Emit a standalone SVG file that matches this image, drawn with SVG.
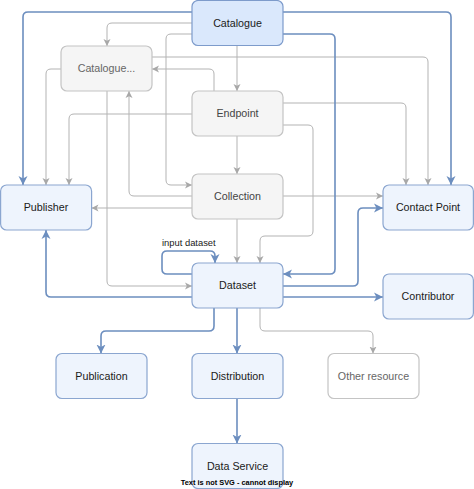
<svg xmlns="http://www.w3.org/2000/svg" width="474" height="489" viewBox="0 0 474 489">
<defs>
<marker id="ag" markerUnits="userSpaceOnUse" markerWidth="8" markerHeight="8" viewBox="0 0 8 8" refX="7" refY="4" orient="auto">
<path d="M0,0.5 L7,4 L0,7.5 L1.8,4 z" fill="#a8a8a8"/>
</marker>
<marker id="ab" markerUnits="userSpaceOnUse" markerWidth="10" markerHeight="10" viewBox="0 0 10 10" refX="9" refY="5" orient="auto">
<path d="M0,0.5 L9,5 L0,9.5 L2.4,5 z" fill="#6c8ebf"/>
</marker>
<style>
text{font-family:"Liberation Sans",Arial,Helvetica,sans-serif;font-size:10.7px;text-anchor:middle;fill:#1a1a1a}
.nb rect{fill:#eef4fd;stroke:#8ba6d0;stroke-width:1.2}
.nc rect{fill:#dae8fc;stroke:#7d9bcb;stroke-width:1.2}
.ng rect{fill:#f5f5f5;stroke:#c4c4c4;stroke-width:1.2}
.nw rect{fill:#ffffff;stroke:#c4c4c4;stroke-width:1.2}
.ng text{fill:#444}
.nw text{fill:#666}
#catalogue2 text{fill:#666}
.g{fill:none;stroke:#b3b3b3;stroke-width:1;marker-end:url(#ag)}
.b{fill:none;stroke:#6c8ebf;stroke-width:1.6;marker-end:url(#ab)}
.lbl{font-size:9.4px;text-anchor:start}
.warn{font-size:7.4px;font-weight:bold;fill:#000}
</style>
</defs>
<g id="connectors">
<path class="g" d="M192,23 H112 Q107,23 107,28 V46"/>
<path class="g" d="M237,45.5 V91"/>
<path class="g" d="M192,34 H171 Q166,34 166,39 V180 Q166,185 171,185 H192"/>
<path class="g" d="M152,57 H423 Q428,57 428,62 V185"/>
<path class="g" d="M283,103 H401 Q406,103 406,108 V185"/>
<path class="g" d="M214,91 V74 Q214,69 209,69 H152"/>
<path class="g" d="M192,114 H74 Q69,114 69,119 V185"/>
<path class="g" d="M61,69 H51 Q46,69 46,74 V185"/>
<path class="g" d="M107,91 V281 Q107,286 112,286 H192"/>
<path class="g" d="M192,196 H134 Q129,196 129,191 V91"/>
<path class="g" d="M192,208 H91.5"/>
<path class="g" d="M283,196 H383"/>
<path class="g" d="M237,136 V174"/>
<path class="g" d="M283,125 H308 Q313,125 313,130 V231 Q313,236 308,236 H265 Q260,236 260,241 V263"/>
<path class="g" d="M237,219 V263"/>
<path class="g" d="M260,308 V326 Q260,331 265,331 H368 Q373,331 373,336 V353.5"/>
<path class="b" d="M192,12 H28 Q23,12 23,17 V185"/>
<path class="b" d="M283,12 H446 Q451,12 451,17 V185"/>
<path class="b" d="M283,34 H330 Q335,34 335,39 V269 Q335,274 330,274 H283"/>
<path class="b" d="M283,286 H353 Q358,286 358,281 V213 Q358,208 363,208 H383"/>
<path class="b" d="M283,297 H383"/>
<path class="b" d="M192,297 H51 Q46,297 46,292 V230"/>
<path class="b" d="M192,274 H167 Q162,274 162,269 V256 Q162,251 167,251 H210 Q215,251 215,256 V263"/>
<path class="b" d="M214,308 V326 Q214,331 209,331 H106 Q101,331 101,336 V353.5"/>
<path class="b" d="M237,308 V353.5"/>
<path class="b" d="M237,398.5 V443.5"/>
<text class="lbl" x="162" y="245.5">input dataset</text>
</g>
<g id="catalogue" class="nc"><rect x="192" y="0.5" width="91" height="45" rx="6"/><text x="237.5" y="26.8">Catalogue</text></g>
<g id="catalogue2" class="ng"><rect x="61" y="46" width="91" height="45" rx="6"/><text x="106.5" y="72.3">Catalogue...</text></g>
<g id="endpoint" class="ng"><rect x="192" y="91" width="91" height="45" rx="6"/><text x="237.5" y="117.3">Endpoint</text></g>
<g id="collection" class="ng"><rect x="192" y="174" width="91" height="45" rx="6"/><text x="237.5" y="200.3">Collection</text></g>
<g id="publisher" class="nb"><rect x="0.6" y="185" width="91" height="45" rx="6"/><text x="46" y="211.3">Publisher</text></g>
<g id="contactpoint" class="nb"><rect x="383" y="185" width="90.4" height="45" rx="6"/><text x="428" y="211.3">Contact Point</text></g>
<g id="dataset" class="nb"><rect x="192" y="263" width="91" height="45" rx="6"/><text x="237.5" y="289.3">Dataset</text></g>
<g id="contributor" class="nb"><rect x="383" y="274" width="90.4" height="45" rx="6"/><text x="428" y="300.3">Contributor</text></g>
<g id="publication" class="nb"><rect x="56" y="353.5" width="91" height="45" rx="6"/><text x="101.5" y="379.8">Publication</text></g>
<g id="distribution" class="nb"><rect x="192" y="353.5" width="91" height="45" rx="6"/><text x="237.5" y="379.8">Distribution</text></g>
<g id="otherresource" class="nw"><rect x="328" y="353.5" width="91" height="45" rx="6"/><text x="373.5" y="379.8">Other resource</text></g>
<g id="dataservice" class="nb"><rect x="192" y="443.5" width="91" height="45" rx="6"/><text x="237.5" y="469.8">Data Service</text></g>
<text class="warn" x="237" y="484.5">Text is not SVG - cannot display</text>
</svg>
